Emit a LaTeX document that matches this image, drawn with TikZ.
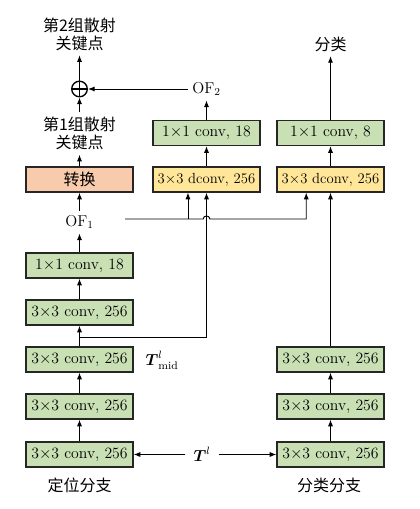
\documentclass[tikz,border=0pt]{standalone}
\usepackage{fontspec}
\usepackage{amsmath}
\usetikzlibrary{arrows.meta}
\newfontfamily\cjk{Noto Sans CJK SC}
\definecolor{convgreen}{HTML}{C8E0B4}
\definecolor{dconvyellow}{HTML}{FFE699}
\definecolor{transorange}{HTML}{F8CBAD}
\tikzset{
	box/.style={draw=black!85, line width=0.9pt, minimum width=80.25pt, minimum height=18.75pt, inner sep=0pt},
	convbox/.style={box, fill=convgreen, font=\fontsize{11.8}{13}\selectfont},
	dconvbox/.style={box, fill=dconvyellow, font=\fontsize{11}{13}\selectfont},
	arr/.style={-{Latex[length=5pt,width=3.8pt]}, line width=0.7pt},
	cjktext/.style={font=\fontsize{12}{13.5}\selectfont\cjk},
	twoline/.style={cjktext, align=center}
}
\begin{document}
\begin{tikzpicture}[x=0.75pt, y=-0.75pt, font=\fontsize{11.8}{13}\selectfont]
			\useasboundingbox (0,0) rectangle (419,509);
			
			% localisation branch
			\foreach \n/\y in {lb1/454.5, lb2/406.5, lb3/359.5, lb4/312.5}
				\node[convbox] (\n) at (79.5,\y) {3$\times$3 conv, 256};
			\node[convbox] (lb5) at (79.5,265.5) {1$\times$1 conv, 18};
			\node (of1) at (79.5,222) {OF$_1$};
			\node[box, fill=transorange, cjktext] (trans) at (79.5,179.5) {转换};
			\node[twoline] (kp1) at (79.5,133.5) {第1组散射\\关键点};
			\node[circle, draw, line width=1pt, minimum size=11.7pt, inner sep=0pt] (sum) at (79.5,89) {};
			\draw[line width=1pt] (sum.north) -- (sum.south) (sum.west) -- (sum.east);
			\node[twoline] (kp2) at (79.5,34) {第2组散射\\关键点};
			
			% offset branch
			\node[dconvbox] (md) at (206.5,179.5) {3$\times$3 dconv, 256};
			\node[convbox] (mc) at (206.5,133) {1$\times$1 conv, 18};
			\node (of2) at (206.5,89) {OF$_2$};
			
			% classification branch
			\foreach \n/\y in {rb1/454.5, rb2/406.5, rb3/359.5}
				\node[convbox] (\n) at (330.5,\y) {3$\times$3 conv, 256};
			\node[dconvbox] (rd) at (330.5,179.5) {3$\times$3 dconv, 256};
			\node[convbox] (rc) at (330.5,133) {1$\times$1 conv, 8};
			\node[cjktext] (cls) at (330.5,44) {分类};
			
			% labels
			\node[inner xsep=6pt] (tl) at (202,454.5) {$\boldsymbol{T}^{l}$};
			\node (tmid) at (162,360) {$\boldsymbol{T}^{l}_{\mathrm{mid}}$};
			\node[cjktext] (loc) at (79.5,485) {定位分支};
			\node[cjktext] (clsb) at (329,485) {分类分支};
			
			% straight arrows
			\foreach \a/\b in {lb1/lb2, lb2/lb3, lb3/lb4, lb4/lb5, lb5/of1, of1/trans, trans/kp1, kp1/sum, sum/kp2,
				md/mc, mc/of2, rb1/rb2, rb2/rb3, rb3/rd, rd/rc, rc/cls, of2/sum, tl/lb1, tl/rb1}
				\draw[arr] (\a) -- (\b);
			
			% OF1 to both dconv
			\coordinate (of1r) at (125,219);
			\coordinate (mdin) at ([xshift=-13.9pt]md.south);
			\coordinate (rdin) at ([xshift=-18.2pt]rd.south);
			\draw[arr] (of1r) -- ([xshift=-2.5pt]of1r -| md.south) .. controls +(0,-4) and +(0,-4) .. ([xshift=2.5pt]of1r -| md.south) -- (of1r -| rdin) -- (rdin);
			\draw[arr] (of1r -| mdin) -- (mdin);
			
			% T_mid to offset dconv
			\coordinate (midtap) at (79.5,337);
			\draw[arr] (midtap) -| (md.south);
		\end{tikzpicture}
\end{document}
